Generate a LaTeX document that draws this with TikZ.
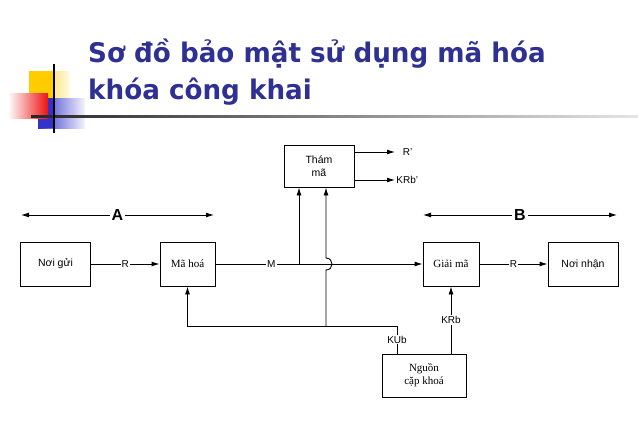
\documentclass[tikz,border=0pt]{standalone}
\usepackage{fontspec}
\setmainfont{Liberation Sans}
\newfontfamily\titlefont{DejaVu Sans}[FakeStretch=0.97]
\newfontfamily\serifvn{Liberation Serif}
\usetikzlibrary{arrows.meta}
\definecolor{titleblue}{HTML}{2E3192}
\definecolor{decoyellow}{HTML}{FFCC00}
\definecolor{decored}{HTML}{EE1111}
\definecolor{decoblue}{HTML}{3333CC}
\tikzset{
  box/.style={draw, line width=0.9pt, inner sep=1pt, align=center, font=\fontsize{10.5}{13}\selectfont},
  sbox/.style={box, font=\serifvn\fontsize{11}{13}\selectfont},
  arr/.style={line width=0.9pt, -{Latex[length=8pt,width=5pt]}},
  darr/.style={line width=0.9pt, {Latex[length=8pt,width=5pt]}-{Latex[length=8pt,width=5pt]}},
  lbl/.style={fill=white, inner sep=1pt, font=\fontsize{10}{11}\selectfont},
  biglbl/.style={fill=white, inner sep=2pt, font=\bfseries\fontsize{16}{17}\selectfont},
}
\begin{document}
\begin{tikzpicture}[x=1pt,y=-1pt]
\useasboundingbox (0,0) rectangle (638,442);
% decoration
\shade[left color=decoyellow, right color=decoyellow!10] (29,71) rectangle (70,98);
\fill[decoyellow] (29,71) rectangle (53,98);
\shade[left color=decoblue, right color=decoblue!5] (38,98) rectangle (85,128);
\fill[decoblue] (38,98) rectangle (54,128);
\shade[left color=white, right color=decored] (8,93) rectangle (48,118);
\shade[left color=black!85, right color=black!10] (31,115) rectangle (638,117);
\draw[line width=1.5pt] (54,64) -- (54,133);
% title
\node[anchor=base west, inner sep=0pt, text=titleblue, font=\titlefont\bfseries\fontsize{27}{30}\selectfont] (t1) at (88,62) {Sơ đồ bảo mật sử dụng mã hóa};
\node[anchor=base west, inner sep=0pt, text=titleblue, font=\titlefont\bfseries\fontsize{27}{30}\selectfont] (t2) at (88,99) {khóa công khai};
% boxes
\node[box, minimum width=70pt, minimum height=44pt] (noigui) at (55.5,264) {Nơi gửi};
\node[sbox, minimum width=55pt, minimum height=44pt] (mahoa) at (187.5,264) {Mã hoá};
\node[box, minimum width=70pt, minimum height=42pt] (thamma) at (319,166) {Thám\\mã};
\node[sbox, minimum width=56pt, minimum height=44pt] (giaima) at (451,264) {Giải mã};
\node[box, minimum width=70pt, minimum height=44pt] (noinhan) at (583,264) {Nơi nhận};
\node[sbox, minimum width=84pt, minimum height=43pt] (nguon) at (424,375.5) {Nguồn\\cặp khoá};
% A and B
\coordinate (a1) at (21,215); \coordinate (a2) at (214,215);
\coordinate (b1) at (423,215); \coordinate (b2) at (617,215);
\draw[darr] (a1) -- node[biglbl]{A} (a2);
\draw[darr] (b1) -- node[biglbl]{B} (b2);
% main flow
\draw[arr] (noigui) -- node[lbl]{R} (mahoa);
\draw[arr] (mahoa) -- node[lbl, pos=0.27]{M} (giaima);
\draw[arr] (giaima) -- node[lbl]{R} (noinhan);
% to Tham ma
\coordinate (j1) at (299,264);
\draw[arr] (j1) -- (j1 |- thamma.south);
\coordinate (kb) at (397,326);
\coordinate (j2) at (326,326);
\coordinate (h1) at (326,270);
\coordinate (h2) at (326,258);
\draw[arr] (j2) -- (h1) .. controls (334,270) and (334,258) .. (h2) -- (h2 |- thamma.south);
% outputs of Tham ma
\coordinate (rp) at (395,152);
\coordinate (kp) at (395,180);
\draw[arr] (rp -| thamma.east) -- (rp) node[right, font=\fontsize{10}{11}\selectfont, xshift=4pt]{R'};
\draw[arr] (kp -| thamma.east) -- (kp) node[right, font=\fontsize{10}{11}\selectfont, inner sep=1pt]{KRb'};
% key source
\draw[arr] (kb |- nguon.north) -- node[lbl]{KUb} (kb) -- (kb -| mahoa.south) -- (mahoa.south);
\draw[arr] (nguon.north -| giaima.south) -- node[lbl]{KRb} (giaima.south);
\end{tikzpicture}
\end{document}
